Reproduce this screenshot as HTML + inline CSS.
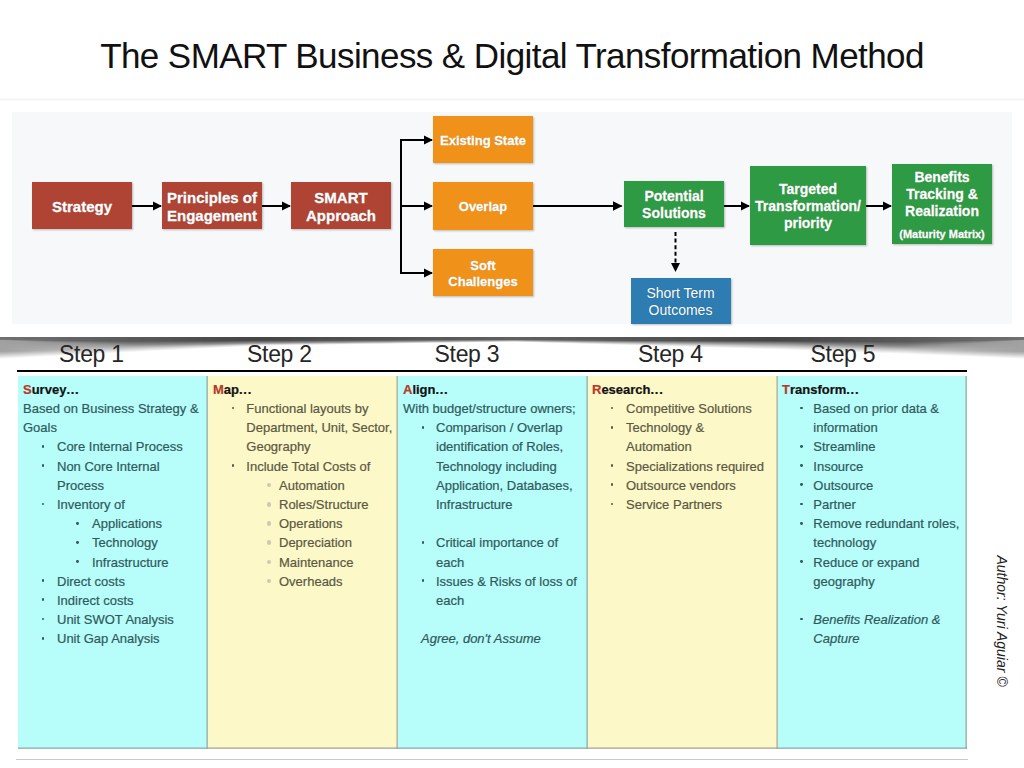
<!DOCTYPE html>
<html><head><meta charset="utf-8">
<style>
*{margin:0;padding:0;box-sizing:border-box}
html,body{width:1024px;height:768px;overflow:hidden;background:#fff;font-family:"Liberation Sans",sans-serif;position:relative}
.abs{position:absolute}
#title{left:0;top:35.5px;width:1024px;text-align:center;font-size:35px;line-height:40px;color:#111;letter-spacing:-0.58px;padding-left:0px}
#sep{left:0;top:98px;width:1024px;height:3px;background:linear-gradient(#fff,#f3f3f3,#fff)}
#panel{left:12px;top:111.5px;width:1000px;height:212px;background:#f7f8fa}
.bx{position:absolute;color:#fff;font-weight:bold;font-size:15px;line-height:18px;text-align:center;display:flex;align-items:center;justify-content:center;box-shadow:1px 1px 2px rgba(0,0,0,.25);text-shadow:0 0 1px rgba(0,0,0,.35);padding-top:2px;-webkit-text-stroke:0.3px #fff}
.red{background:#b04434}
.org{background:#f0921a}
.grn{background:#2e9a44}
.blu{background:#2d7db3;font-weight:normal;-webkit-text-stroke:0 !important}
.step{position:absolute;top:340px;font-size:23px;line-height:28px;color:#262626;letter-spacing:-0.3px}
#bline{left:17px;top:370px;width:950px;height:2px;background:#000}
.col{position:absolute;top:376px;width:190px;height:373px;font-size:13px;line-height:19.2px;color:#2f5a5c;padding-top:3.9px;-webkit-text-stroke:0.2px currentColor}
.ye{color:#5a5843}
.cy{background:#b7fdfa}
.col:after{content:"";position:absolute;right:0;top:0;bottom:0;width:2px;background:linear-gradient(90deg,rgba(150,160,155,.35),rgba(150,160,155,.8))}
.col>i.bt{position:absolute;left:0;right:0;bottom:0;height:2px;background:linear-gradient(rgba(150,160,155,.35),rgba(150,160,155,.8))}
.ye{background:#fdf8c8}
.col div{white-space:nowrap}
.h{font-weight:bold;color:#111}
.dd{font-style:normal;letter-spacing:0.7px}
.h b{color:#b43a2a}
.b1{position:relative}
.b1:before{content:"\00b7";position:absolute}

.col .l{position:relative;height:19.2px}
.l0{padding-left:5px}
.l1{padding-left:39px}
.l2{padding-left:74px}
.dot:before{content:"";position:absolute;width:2.8px;height:2.8px;border-radius:50%;background:currentColor;top:7.5px}
.l1.dot:before{left:23.7px}
.l2.dot:before{left:58.4px}
.circ{padding-left:71px}
.circ:before{content:"";position:absolute;width:4.6px;height:4.6px;border-radius:50%;background:#cdcab0;left:58.7px;top:7px}
.it{font-style:italic}
#c2 .l1{padding-left:38.3px}
#c3 .l1{padding-left:38px}
#c4 .l{left:-1px}
#c5 .l0{padding-left:4px}
#c5 .l1{padding-left:35.3px}
#c5 .l1.dot:before{left:22.3px}
#bot{left:16px;top:759px;width:952px;height:1px;background:#c9c9c9}
#author{left:1002px;top:621px;transform:translate(-50%,-50%) rotate(90deg);font-size:14px;font-style:italic;color:#222;white-space:nowrap}
</style></head><body>
<div id="title" class="abs">The SMART Business &amp; Digital Transformation Method</div>
<div id="sep" class="abs"></div>
<div id="panel" class="abs"></div>

<div class="bx red" style="left:32px;top:182px;width:100px;height:47px">Strategy</div>
<div class="bx red" style="left:162px;top:182px;width:100px;height:47px">Principles of<br>Engagement</div>
<div class="bx red" style="left:291px;top:182px;width:100px;height:47px">SMART<br>Approach</div>
<div class="bx org" style="left:433px;top:116px;width:100px;height:47px;font-size:13px">Existing State</div>
<div class="bx org" style="left:433px;top:182px;width:100px;height:48px;font-size:13px">Overlap</div>
<div class="bx org" style="left:433px;top:249px;width:100px;height:47px;font-size:13px;line-height:16px">Soft<br>Challenges</div>
<div class="bx grn" style="left:624px;top:181px;width:100px;height:46px;font-size:14px;line-height:17px">Potential<br>Solutions</div>
<div class="bx grn" style="left:750px;top:166px;width:116px;height:79px;font-size:14px;line-height:17px">Targeted<br>Transformation/<br>priority</div>
<div class="bx grn" style="left:892px;top:164px;width:100px;height:80px;font-size:14px;line-height:17px"><div>Benefits<br>Tracking &amp;<br>Realization<div style="font-size:11px;line-height:14px;margin-top:7px">(Maturity Matrix)</div></div></div>
<div class="bx blu" style="left:630.5px;top:277.5px;width:100px;height:46px;font-size:14px;line-height:17px">Short Term<br>Outcomes</div>

<svg class="abs" style="left:0;top:0" width="1024" height="768">
<defs><marker id="ah" markerWidth="10" markerHeight="10" refX="8.5" refY="4.75" orient="auto" markerUnits="userSpaceOnUse"><path d="M0,0 L9.5,4.75 L0,9.5 z" fill="#000"/></marker></defs>
<g stroke="#000" stroke-width="2" fill="none">
<line x1="132" y1="206" x2="161" y2="206" marker-end="url(#ah)"/>
<line x1="262" y1="206" x2="290" y2="206" marker-end="url(#ah)"/>
<line x1="401" y1="140" x2="401" y2="273"/>
<line x1="400" y1="140" x2="432" y2="140" marker-end="url(#ah)"/>
<line x1="400" y1="206" x2="432" y2="206" marker-end="url(#ah)"/>
<line x1="400" y1="273" x2="432" y2="273" marker-end="url(#ah)"/>
<line x1="533" y1="206" x2="621.5" y2="206" marker-end="url(#ah)"/>
<line x1="724" y1="206" x2="749" y2="206" marker-end="url(#ah)"/>
<line x1="866" y1="206" x2="891" y2="206" marker-end="url(#ah)"/>
<line x1="675.5" y1="232" x2="675.5" y2="271" stroke-dasharray="4,2.6" marker-end="url(#ah)"/>
</g>
</svg>

<svg id="shadow" class="abs" style="left:0;top:0" width="1024" height="768"><defs><filter id="sb" x="-2%" y="-50%" width="104%" height="200%"><feGaussianBlur stdDeviation="5 0.5"/></filter><linearGradient id="g0" x1="0" y1="0" x2="0" y2="1"><stop offset="0" stop-opacity="0.56"/><stop offset="0.11" stop-opacity="0.56"/><stop offset="0.14" stop-opacity="0.37"/><stop offset="0.66" stop-opacity="0.37"/><stop offset="1" stop-opacity="0"/></linearGradient><linearGradient id="g1" x1="0" y1="0" x2="0" y2="1"><stop offset="0" stop-opacity="0.56"/><stop offset="0.11" stop-opacity="0.56"/><stop offset="0.14" stop-opacity="0.37"/><stop offset="0.66" stop-opacity="0.37"/><stop offset="1" stop-opacity="0"/></linearGradient><linearGradient id="g2" x1="0" y1="0" x2="0" y2="1"><stop offset="0" stop-opacity="0.56"/><stop offset="0.11" stop-opacity="0.56"/><stop offset="0.15" stop-opacity="0.37"/><stop offset="0.66" stop-opacity="0.36"/><stop offset="1" stop-opacity="0"/></linearGradient><linearGradient id="g3" x1="0" y1="0" x2="0" y2="1"><stop offset="0" stop-opacity="0.57"/><stop offset="0.12" stop-opacity="0.57"/><stop offset="0.17" stop-opacity="0.38"/><stop offset="0.67" stop-opacity="0.35"/><stop offset="1" stop-opacity="0"/></linearGradient><linearGradient id="g4" x1="0" y1="0" x2="0" y2="1"><stop offset="0" stop-opacity="0.57"/><stop offset="0.13" stop-opacity="0.57"/><stop offset="0.19" stop-opacity="0.38"/><stop offset="0.67" stop-opacity="0.34"/><stop offset="1" stop-opacity="0"/></linearGradient><linearGradient id="g5" x1="0" y1="0" x2="0" y2="1"><stop offset="0" stop-opacity="0.58"/><stop offset="0.14" stop-opacity="0.58"/><stop offset="0.21" stop-opacity="0.39"/><stop offset="0.68" stop-opacity="0.33"/><stop offset="1" stop-opacity="0"/></linearGradient><linearGradient id="g6" x1="0" y1="0" x2="0" y2="1"><stop offset="0" stop-opacity="0.58"/><stop offset="0.15" stop-opacity="0.58"/><stop offset="0.24" stop-opacity="0.40"/><stop offset="0.68" stop-opacity="0.32"/><stop offset="1" stop-opacity="0"/></linearGradient><linearGradient id="g7" x1="0" y1="0" x2="0" y2="1"><stop offset="0" stop-opacity="0.59"/><stop offset="0.16" stop-opacity="0.59"/><stop offset="0.26" stop-opacity="0.40"/><stop offset="0.69" stop-opacity="0.31"/><stop offset="1" stop-opacity="0"/></linearGradient><linearGradient id="g8" x1="0" y1="0" x2="0" y2="1"><stop offset="0" stop-opacity="0.59"/><stop offset="0.17" stop-opacity="0.59"/><stop offset="0.28" stop-opacity="0.41"/><stop offset="0.69" stop-opacity="0.30"/><stop offset="1" stop-opacity="0"/></linearGradient><linearGradient id="g9" x1="0" y1="0" x2="0" y2="1"><stop offset="0" stop-opacity="0.60"/><stop offset="0.18" stop-opacity="0.60"/><stop offset="0.30" stop-opacity="0.41"/><stop offset="0.70" stop-opacity="0.29"/><stop offset="1" stop-opacity="0"/></linearGradient><linearGradient id="g10" x1="0" y1="0" x2="0" y2="1"><stop offset="0" stop-opacity="0.61"/><stop offset="0.19" stop-opacity="0.61"/><stop offset="0.32" stop-opacity="0.42"/><stop offset="0.71" stop-opacity="0.28"/><stop offset="1" stop-opacity="0"/></linearGradient><linearGradient id="g11" x1="0" y1="0" x2="0" y2="1"><stop offset="0" stop-opacity="0.61"/><stop offset="0.20" stop-opacity="0.61"/><stop offset="0.34" stop-opacity="0.43"/><stop offset="0.71" stop-opacity="0.27"/><stop offset="1" stop-opacity="0"/></linearGradient><linearGradient id="g12" x1="0" y1="0" x2="0" y2="1"><stop offset="0" stop-opacity="0.62"/><stop offset="0.21" stop-opacity="0.62"/><stop offset="0.36" stop-opacity="0.43"/><stop offset="0.72" stop-opacity="0.26"/><stop offset="1" stop-opacity="0"/></linearGradient><linearGradient id="g13" x1="0" y1="0" x2="0" y2="1"><stop offset="0" stop-opacity="0.62"/><stop offset="0.22" stop-opacity="0.62"/><stop offset="0.39" stop-opacity="0.44"/><stop offset="0.72" stop-opacity="0.25"/><stop offset="1" stop-opacity="0"/></linearGradient><linearGradient id="g14" x1="0" y1="0" x2="0" y2="1"><stop offset="0" stop-opacity="0.63"/><stop offset="0.23" stop-opacity="0.63"/><stop offset="0.41" stop-opacity="0.44"/><stop offset="0.73" stop-opacity="0.24"/><stop offset="1" stop-opacity="0"/></linearGradient><linearGradient id="g15" x1="0" y1="0" x2="0" y2="1"><stop offset="0" stop-opacity="0.63"/><stop offset="0.24" stop-opacity="0.63"/><stop offset="0.43" stop-opacity="0.45"/><stop offset="0.73" stop-opacity="0.23"/><stop offset="1" stop-opacity="0"/></linearGradient><linearGradient id="g16" x1="0" y1="0" x2="0" y2="1"><stop offset="0" stop-opacity="0.64"/><stop offset="0.25" stop-opacity="0.64"/><stop offset="0.45" stop-opacity="0.46"/><stop offset="0.74" stop-opacity="0.22"/><stop offset="1" stop-opacity="0"/></linearGradient><linearGradient id="g17" x1="0" y1="0" x2="0" y2="1"><stop offset="0" stop-opacity="0.64"/><stop offset="0.26" stop-opacity="0.64"/><stop offset="0.47" stop-opacity="0.46"/><stop offset="0.74" stop-opacity="0.21"/><stop offset="1" stop-opacity="0"/></linearGradient><linearGradient id="g18" x1="0" y1="0" x2="0" y2="1"><stop offset="0" stop-opacity="0.65"/><stop offset="0.27" stop-opacity="0.65"/><stop offset="0.49" stop-opacity="0.47"/><stop offset="0.75" stop-opacity="0.20"/><stop offset="1" stop-opacity="0"/></linearGradient><linearGradient id="g19" x1="0" y1="0" x2="0" y2="1"><stop offset="0" stop-opacity="0.65"/><stop offset="0.27" stop-opacity="0.65"/><stop offset="0.51" stop-opacity="0.47"/><stop offset="0.75" stop-opacity="0.20"/><stop offset="1" stop-opacity="0"/></linearGradient><linearGradient id="g20" x1="0" y1="0" x2="0" y2="1"><stop offset="0" stop-opacity="0.66"/><stop offset="0.28" stop-opacity="0.66"/><stop offset="0.52" stop-opacity="0.46"/><stop offset="0.76" stop-opacity="0.19"/><stop offset="1" stop-opacity="0"/></linearGradient><linearGradient id="g21" x1="0" y1="0" x2="0" y2="1"><stop offset="0" stop-opacity="0.66"/><stop offset="0.29" stop-opacity="0.66"/><stop offset="0.54" stop-opacity="0.46"/><stop offset="0.77" stop-opacity="0.19"/><stop offset="1" stop-opacity="0"/></linearGradient><linearGradient id="g22" x1="0" y1="0" x2="0" y2="1"><stop offset="0" stop-opacity="0.67"/><stop offset="0.29" stop-opacity="0.67"/><stop offset="0.55" stop-opacity="0.45"/><stop offset="0.77" stop-opacity="0.19"/><stop offset="1" stop-opacity="0"/></linearGradient><linearGradient id="g23" x1="0" y1="0" x2="0" y2="1"><stop offset="0" stop-opacity="0.67"/><stop offset="0.30" stop-opacity="0.67"/><stop offset="0.56" stop-opacity="0.45"/><stop offset="0.78" stop-opacity="0.18"/><stop offset="1" stop-opacity="0"/></linearGradient><linearGradient id="g24" x1="0" y1="0" x2="0" y2="1"><stop offset="0" stop-opacity="0.68"/><stop offset="0.31" stop-opacity="0.68"/><stop offset="0.57" stop-opacity="0.44"/><stop offset="0.79" stop-opacity="0.18"/><stop offset="1" stop-opacity="0"/></linearGradient><linearGradient id="g25" x1="0" y1="0" x2="0" y2="1"><stop offset="0" stop-opacity="0.69"/><stop offset="0.31" stop-opacity="0.69"/><stop offset="0.59" stop-opacity="0.44"/><stop offset="0.79" stop-opacity="0.18"/><stop offset="1" stop-opacity="0"/></linearGradient><linearGradient id="g26" x1="0" y1="0" x2="0" y2="1"><stop offset="0" stop-opacity="0.69"/><stop offset="0.32" stop-opacity="0.69"/><stop offset="0.60" stop-opacity="0.43"/><stop offset="0.80" stop-opacity="0.17"/><stop offset="1" stop-opacity="0"/></linearGradient><linearGradient id="g27" x1="0" y1="0" x2="0" y2="1"><stop offset="0" stop-opacity="0.70"/><stop offset="0.33" stop-opacity="0.70"/><stop offset="0.61" stop-opacity="0.43"/><stop offset="0.81" stop-opacity="0.17"/><stop offset="1" stop-opacity="0"/></linearGradient><linearGradient id="g28" x1="0" y1="0" x2="0" y2="1"><stop offset="0" stop-opacity="0.70"/><stop offset="0.33" stop-opacity="0.70"/><stop offset="0.63" stop-opacity="0.43"/><stop offset="0.81" stop-opacity="0.17"/><stop offset="1" stop-opacity="0"/></linearGradient><linearGradient id="g29" x1="0" y1="0" x2="0" y2="1"><stop offset="0" stop-opacity="0.71"/><stop offset="0.34" stop-opacity="0.71"/><stop offset="0.64" stop-opacity="0.42"/><stop offset="0.82" stop-opacity="0.16"/><stop offset="1" stop-opacity="0"/></linearGradient><linearGradient id="g30" x1="0" y1="0" x2="0" y2="1"><stop offset="0" stop-opacity="0.71"/><stop offset="0.35" stop-opacity="0.71"/><stop offset="0.66" stop-opacity="0.42"/><stop offset="0.83" stop-opacity="0.16"/><stop offset="1" stop-opacity="0"/></linearGradient><linearGradient id="g31" x1="0" y1="0" x2="0" y2="1"><stop offset="0" stop-opacity="0.72"/><stop offset="0.35" stop-opacity="0.72"/><stop offset="0.67" stop-opacity="0.41"/><stop offset="0.83" stop-opacity="0.16"/><stop offset="1" stop-opacity="0"/></linearGradient><linearGradient id="g32" x1="0" y1="0" x2="0" y2="1"><stop offset="0" stop-opacity="0.72"/><stop offset="0.36" stop-opacity="0.72"/><stop offset="0.68" stop-opacity="0.41"/><stop offset="0.84" stop-opacity="0.15"/><stop offset="1" stop-opacity="0"/></linearGradient><linearGradient id="g33" x1="0" y1="0" x2="0" y2="1"><stop offset="0" stop-opacity="0.73"/><stop offset="0.37" stop-opacity="0.73"/><stop offset="0.69" stop-opacity="0.40"/><stop offset="0.85" stop-opacity="0.15"/><stop offset="1" stop-opacity="0"/></linearGradient><linearGradient id="g34" x1="0" y1="0" x2="0" y2="1"><stop offset="0" stop-opacity="0.73"/><stop offset="0.37" stop-opacity="0.73"/><stop offset="0.70" stop-opacity="0.40"/><stop offset="0.85" stop-opacity="0.15"/><stop offset="1" stop-opacity="0"/></linearGradient><linearGradient id="g35" x1="0" y1="0" x2="0" y2="1"><stop offset="0" stop-opacity="0.72"/><stop offset="0.38" stop-opacity="0.72"/><stop offset="0.70" stop-opacity="0.40"/><stop offset="0.85" stop-opacity="0.15"/><stop offset="1" stop-opacity="0"/></linearGradient><linearGradient id="g36" x1="0" y1="0" x2="0" y2="1"><stop offset="0" stop-opacity="0.72"/><stop offset="0.38" stop-opacity="0.72"/><stop offset="0.70" stop-opacity="0.39"/><stop offset="0.85" stop-opacity="0.15"/><stop offset="1" stop-opacity="0"/></linearGradient><linearGradient id="g37" x1="0" y1="0" x2="0" y2="1"><stop offset="0" stop-opacity="0.72"/><stop offset="0.38" stop-opacity="0.72"/><stop offset="0.71" stop-opacity="0.39"/><stop offset="0.86" stop-opacity="0.14"/><stop offset="1" stop-opacity="0"/></linearGradient><linearGradient id="g38" x1="0" y1="0" x2="0" y2="1"><stop offset="0" stop-opacity="0.71"/><stop offset="0.39" stop-opacity="0.71"/><stop offset="0.71" stop-opacity="0.39"/><stop offset="0.86" stop-opacity="0.14"/><stop offset="1" stop-opacity="0"/></linearGradient><linearGradient id="g39" x1="0" y1="0" x2="0" y2="1"><stop offset="0" stop-opacity="0.71"/><stop offset="0.39" stop-opacity="0.71"/><stop offset="0.71" stop-opacity="0.38"/><stop offset="0.86" stop-opacity="0.14"/><stop offset="1" stop-opacity="0"/></linearGradient><linearGradient id="g40" x1="0" y1="0" x2="0" y2="1"><stop offset="0" stop-opacity="0.71"/><stop offset="0.40" stop-opacity="0.71"/><stop offset="0.71" stop-opacity="0.38"/><stop offset="0.86" stop-opacity="0.14"/><stop offset="1" stop-opacity="0"/></linearGradient><linearGradient id="g41" x1="0" y1="0" x2="0" y2="1"><stop offset="0" stop-opacity="0.70"/><stop offset="0.40" stop-opacity="0.70"/><stop offset="0.71" stop-opacity="0.38"/><stop offset="0.86" stop-opacity="0.14"/><stop offset="1" stop-opacity="0"/></linearGradient><linearGradient id="g42" x1="0" y1="0" x2="0" y2="1"><stop offset="0" stop-opacity="0.70"/><stop offset="0.40" stop-opacity="0.70"/><stop offset="0.71" stop-opacity="0.37"/><stop offset="0.86" stop-opacity="0.14"/><stop offset="1" stop-opacity="0"/></linearGradient><linearGradient id="g43" x1="0" y1="0" x2="0" y2="1"><stop offset="0" stop-opacity="0.70"/><stop offset="0.41" stop-opacity="0.70"/><stop offset="0.71" stop-opacity="0.37"/><stop offset="0.86" stop-opacity="0.14"/><stop offset="1" stop-opacity="0"/></linearGradient><linearGradient id="g44" x1="0" y1="0" x2="0" y2="1"><stop offset="0" stop-opacity="0.69"/><stop offset="0.41" stop-opacity="0.69"/><stop offset="0.72" stop-opacity="0.37"/><stop offset="0.87" stop-opacity="0.13"/><stop offset="1" stop-opacity="0"/></linearGradient><linearGradient id="g45" x1="0" y1="0" x2="0" y2="1"><stop offset="0" stop-opacity="0.69"/><stop offset="0.42" stop-opacity="0.69"/><stop offset="0.72" stop-opacity="0.36"/><stop offset="0.87" stop-opacity="0.13"/><stop offset="1" stop-opacity="0"/></linearGradient><linearGradient id="g46" x1="0" y1="0" x2="0" y2="1"><stop offset="0" stop-opacity="0.69"/><stop offset="0.42" stop-opacity="0.69"/><stop offset="0.72" stop-opacity="0.36"/><stop offset="0.87" stop-opacity="0.13"/><stop offset="1" stop-opacity="0"/></linearGradient><linearGradient id="g47" x1="0" y1="0" x2="0" y2="1"><stop offset="0" stop-opacity="0.68"/><stop offset="0.42" stop-opacity="0.68"/><stop offset="0.72" stop-opacity="0.36"/><stop offset="0.87" stop-opacity="0.13"/><stop offset="1" stop-opacity="0"/></linearGradient><linearGradient id="g48" x1="0" y1="0" x2="0" y2="1"><stop offset="0" stop-opacity="0.68"/><stop offset="0.43" stop-opacity="0.68"/><stop offset="0.72" stop-opacity="0.35"/><stop offset="0.87" stop-opacity="0.13"/><stop offset="1" stop-opacity="0"/></linearGradient><linearGradient id="g49" x1="0" y1="0" x2="0" y2="1"><stop offset="0" stop-opacity="0.68"/><stop offset="0.43" stop-opacity="0.68"/><stop offset="0.72" stop-opacity="0.35"/><stop offset="0.87" stop-opacity="0.13"/><stop offset="1" stop-opacity="0"/></linearGradient><linearGradient id="g50" x1="0" y1="0" x2="0" y2="1"><stop offset="0" stop-opacity="0.67"/><stop offset="0.44" stop-opacity="0.67"/><stop offset="0.73" stop-opacity="0.35"/><stop offset="0.88" stop-opacity="0.12"/><stop offset="1" stop-opacity="0"/></linearGradient><linearGradient id="g51" x1="0" y1="0" x2="0" y2="1"><stop offset="0" stop-opacity="0.67"/><stop offset="0.44" stop-opacity="0.67"/><stop offset="0.73" stop-opacity="0.35"/><stop offset="0.88" stop-opacity="0.12"/><stop offset="1" stop-opacity="0"/></linearGradient><linearGradient id="g52" x1="0" y1="0" x2="0" y2="1"><stop offset="0" stop-opacity="0.67"/><stop offset="0.44" stop-opacity="0.67"/><stop offset="0.73" stop-opacity="0.34"/><stop offset="0.88" stop-opacity="0.12"/><stop offset="1" stop-opacity="0"/></linearGradient><linearGradient id="g53" x1="0" y1="0" x2="0" y2="1"><stop offset="0" stop-opacity="0.66"/><stop offset="0.45" stop-opacity="0.66"/><stop offset="0.73" stop-opacity="0.34"/><stop offset="0.88" stop-opacity="0.12"/><stop offset="1" stop-opacity="0"/></linearGradient><linearGradient id="g54" x1="0" y1="0" x2="0" y2="1"><stop offset="0" stop-opacity="0.66"/><stop offset="0.45" stop-opacity="0.66"/><stop offset="0.73" stop-opacity="0.34"/><stop offset="0.88" stop-opacity="0.12"/><stop offset="1" stop-opacity="0"/></linearGradient><linearGradient id="g55" x1="0" y1="0" x2="0" y2="1"><stop offset="0" stop-opacity="0.66"/><stop offset="0.46" stop-opacity="0.66"/><stop offset="0.73" stop-opacity="0.33"/><stop offset="0.88" stop-opacity="0.12"/><stop offset="1" stop-opacity="0"/></linearGradient><linearGradient id="g56" x1="0" y1="0" x2="0" y2="1"><stop offset="0" stop-opacity="0.65"/><stop offset="0.46" stop-opacity="0.65"/><stop offset="0.73" stop-opacity="0.33"/><stop offset="0.88" stop-opacity="0.12"/><stop offset="1" stop-opacity="0"/></linearGradient><linearGradient id="g57" x1="0" y1="0" x2="0" y2="1"><stop offset="0" stop-opacity="0.65"/><stop offset="0.46" stop-opacity="0.65"/><stop offset="0.74" stop-opacity="0.33"/><stop offset="0.89" stop-opacity="0.11"/><stop offset="1" stop-opacity="0"/></linearGradient><linearGradient id="g58" x1="0" y1="0" x2="0" y2="1"><stop offset="0" stop-opacity="0.65"/><stop offset="0.47" stop-opacity="0.65"/><stop offset="0.74" stop-opacity="0.32"/><stop offset="0.89" stop-opacity="0.11"/><stop offset="1" stop-opacity="0"/></linearGradient><linearGradient id="g59" x1="0" y1="0" x2="0" y2="1"><stop offset="0" stop-opacity="0.64"/><stop offset="0.47" stop-opacity="0.64"/><stop offset="0.74" stop-opacity="0.32"/><stop offset="0.89" stop-opacity="0.11"/><stop offset="1" stop-opacity="0"/></linearGradient><linearGradient id="g60" x1="0" y1="0" x2="0" y2="1"><stop offset="0" stop-opacity="0.64"/><stop offset="0.48" stop-opacity="0.64"/><stop offset="0.74" stop-opacity="0.32"/><stop offset="0.89" stop-opacity="0.11"/><stop offset="1" stop-opacity="0"/></linearGradient><linearGradient id="g61" x1="0" y1="0" x2="0" y2="1"><stop offset="0" stop-opacity="0.64"/><stop offset="0.48" stop-opacity="0.64"/><stop offset="0.74" stop-opacity="0.32"/><stop offset="0.89" stop-opacity="0.11"/><stop offset="1" stop-opacity="0"/></linearGradient><linearGradient id="g62" x1="0" y1="0" x2="0" y2="1"><stop offset="0" stop-opacity="0.63"/><stop offset="0.48" stop-opacity="0.63"/><stop offset="0.74" stop-opacity="0.31"/><stop offset="0.89" stop-opacity="0.11"/><stop offset="1" stop-opacity="0"/></linearGradient><linearGradient id="g63" x1="0" y1="0" x2="0" y2="1"><stop offset="0" stop-opacity="0.63"/><stop offset="0.49" stop-opacity="0.63"/><stop offset="0.75" stop-opacity="0.31"/><stop offset="0.90" stop-opacity="0.10"/><stop offset="1" stop-opacity="0"/></linearGradient><linearGradient id="g64" x1="0" y1="0" x2="0" y2="1"><stop offset="0" stop-opacity="0.63"/><stop offset="0.49" stop-opacity="0.63"/><stop offset="0.75" stop-opacity="0.31"/><stop offset="0.90" stop-opacity="0.10"/><stop offset="1" stop-opacity="0"/></linearGradient><linearGradient id="g65" x1="0" y1="0" x2="0" y2="1"><stop offset="0" stop-opacity="0.62"/><stop offset="0.50" stop-opacity="0.62"/><stop offset="0.75" stop-opacity="0.30"/><stop offset="0.90" stop-opacity="0.10"/><stop offset="1" stop-opacity="0"/></linearGradient><linearGradient id="g66" x1="0" y1="0" x2="0" y2="1"><stop offset="0" stop-opacity="0.62"/><stop offset="0.50" stop-opacity="0.62"/><stop offset="0.75" stop-opacity="0.30"/><stop offset="0.90" stop-opacity="0.10"/><stop offset="1" stop-opacity="0"/></linearGradient><linearGradient id="g67" x1="0" y1="0" x2="0" y2="1"><stop offset="0" stop-opacity="0.62"/><stop offset="0.49" stop-opacity="0.62"/><stop offset="0.74" stop-opacity="0.31"/><stop offset="0.89" stop-opacity="0.10"/><stop offset="1" stop-opacity="0"/></linearGradient><linearGradient id="g68" x1="0" y1="0" x2="0" y2="1"><stop offset="0" stop-opacity="0.63"/><stop offset="0.49" stop-opacity="0.63"/><stop offset="0.73" stop-opacity="0.31"/><stop offset="0.89" stop-opacity="0.11"/><stop offset="1" stop-opacity="0"/></linearGradient><linearGradient id="g69" x1="0" y1="0" x2="0" y2="1"><stop offset="0" stop-opacity="0.63"/><stop offset="0.48" stop-opacity="0.63"/><stop offset="0.73" stop-opacity="0.32"/><stop offset="0.89" stop-opacity="0.11"/><stop offset="1" stop-opacity="0"/></linearGradient><linearGradient id="g70" x1="0" y1="0" x2="0" y2="1"><stop offset="0" stop-opacity="0.63"/><stop offset="0.47" stop-opacity="0.63"/><stop offset="0.72" stop-opacity="0.32"/><stop offset="0.88" stop-opacity="0.11"/><stop offset="1" stop-opacity="0"/></linearGradient><linearGradient id="g71" x1="0" y1="0" x2="0" y2="1"><stop offset="0" stop-opacity="0.64"/><stop offset="0.47" stop-opacity="0.64"/><stop offset="0.71" stop-opacity="0.33"/><stop offset="0.88" stop-opacity="0.12"/><stop offset="1" stop-opacity="0"/></linearGradient><linearGradient id="g72" x1="0" y1="0" x2="0" y2="1"><stop offset="0" stop-opacity="0.64"/><stop offset="0.46" stop-opacity="0.64"/><stop offset="0.70" stop-opacity="0.33"/><stop offset="0.87" stop-opacity="0.12"/><stop offset="1" stop-opacity="0"/></linearGradient><linearGradient id="g73" x1="0" y1="0" x2="0" y2="1"><stop offset="0" stop-opacity="0.64"/><stop offset="0.46" stop-opacity="0.64"/><stop offset="0.70" stop-opacity="0.34"/><stop offset="0.87" stop-opacity="0.12"/><stop offset="1" stop-opacity="0"/></linearGradient><linearGradient id="g74" x1="0" y1="0" x2="0" y2="1"><stop offset="0" stop-opacity="0.65"/><stop offset="0.45" stop-opacity="0.65"/><stop offset="0.69" stop-opacity="0.34"/><stop offset="0.86" stop-opacity="0.12"/><stop offset="1" stop-opacity="0"/></linearGradient><linearGradient id="g75" x1="0" y1="0" x2="0" y2="1"><stop offset="0" stop-opacity="0.65"/><stop offset="0.44" stop-opacity="0.65"/><stop offset="0.68" stop-opacity="0.35"/><stop offset="0.86" stop-opacity="0.13"/><stop offset="1" stop-opacity="0"/></linearGradient><linearGradient id="g76" x1="0" y1="0" x2="0" y2="1"><stop offset="0" stop-opacity="0.65"/><stop offset="0.44" stop-opacity="0.65"/><stop offset="0.67" stop-opacity="0.35"/><stop offset="0.85" stop-opacity="0.13"/><stop offset="1" stop-opacity="0"/></linearGradient><linearGradient id="g77" x1="0" y1="0" x2="0" y2="1"><stop offset="0" stop-opacity="0.66"/><stop offset="0.43" stop-opacity="0.66"/><stop offset="0.66" stop-opacity="0.36"/><stop offset="0.85" stop-opacity="0.13"/><stop offset="1" stop-opacity="0"/></linearGradient><linearGradient id="g78" x1="0" y1="0" x2="0" y2="1"><stop offset="0" stop-opacity="0.66"/><stop offset="0.43" stop-opacity="0.66"/><stop offset="0.66" stop-opacity="0.36"/><stop offset="0.84" stop-opacity="0.14"/><stop offset="1" stop-opacity="0"/></linearGradient><linearGradient id="g79" x1="0" y1="0" x2="0" y2="1"><stop offset="0" stop-opacity="0.66"/><stop offset="0.42" stop-opacity="0.66"/><stop offset="0.65" stop-opacity="0.37"/><stop offset="0.84" stop-opacity="0.14"/><stop offset="1" stop-opacity="0"/></linearGradient><linearGradient id="g80" x1="0" y1="0" x2="0" y2="1"><stop offset="0" stop-opacity="0.67"/><stop offset="0.41" stop-opacity="0.67"/><stop offset="0.64" stop-opacity="0.37"/><stop offset="0.83" stop-opacity="0.14"/><stop offset="1" stop-opacity="0"/></linearGradient><linearGradient id="g81" x1="0" y1="0" x2="0" y2="1"><stop offset="0" stop-opacity="0.67"/><stop offset="0.41" stop-opacity="0.67"/><stop offset="0.63" stop-opacity="0.38"/><stop offset="0.83" stop-opacity="0.15"/><stop offset="1" stop-opacity="0"/></linearGradient><linearGradient id="g82" x1="0" y1="0" x2="0" y2="1"><stop offset="0" stop-opacity="0.67"/><stop offset="0.40" stop-opacity="0.67"/><stop offset="0.63" stop-opacity="0.38"/><stop offset="0.83" stop-opacity="0.15"/><stop offset="1" stop-opacity="0"/></linearGradient><linearGradient id="g83" x1="0" y1="0" x2="0" y2="1"><stop offset="0" stop-opacity="0.68"/><stop offset="0.39" stop-opacity="0.68"/><stop offset="0.62" stop-opacity="0.39"/><stop offset="0.82" stop-opacity="0.15"/><stop offset="1" stop-opacity="0"/></linearGradient><linearGradient id="g84" x1="0" y1="0" x2="0" y2="1"><stop offset="0" stop-opacity="0.68"/><stop offset="0.39" stop-opacity="0.68"/><stop offset="0.61" stop-opacity="0.39"/><stop offset="0.82" stop-opacity="0.16"/><stop offset="1" stop-opacity="0"/></linearGradient><linearGradient id="g85" x1="0" y1="0" x2="0" y2="1"><stop offset="0" stop-opacity="0.68"/><stop offset="0.38" stop-opacity="0.68"/><stop offset="0.60" stop-opacity="0.40"/><stop offset="0.81" stop-opacity="0.16"/><stop offset="1" stop-opacity="0"/></linearGradient><linearGradient id="g86" x1="0" y1="0" x2="0" y2="1"><stop offset="0" stop-opacity="0.69"/><stop offset="0.38" stop-opacity="0.69"/><stop offset="0.60" stop-opacity="0.41"/><stop offset="0.81" stop-opacity="0.16"/><stop offset="1" stop-opacity="0"/></linearGradient><linearGradient id="g87" x1="0" y1="0" x2="0" y2="1"><stop offset="0" stop-opacity="0.69"/><stop offset="0.37" stop-opacity="0.69"/><stop offset="0.59" stop-opacity="0.41"/><stop offset="0.80" stop-opacity="0.17"/><stop offset="1" stop-opacity="0"/></linearGradient><linearGradient id="g88" x1="0" y1="0" x2="0" y2="1"><stop offset="0" stop-opacity="0.69"/><stop offset="0.36" stop-opacity="0.69"/><stop offset="0.58" stop-opacity="0.42"/><stop offset="0.80" stop-opacity="0.17"/><stop offset="1" stop-opacity="0"/></linearGradient><linearGradient id="g89" x1="0" y1="0" x2="0" y2="1"><stop offset="0" stop-opacity="0.70"/><stop offset="0.36" stop-opacity="0.70"/><stop offset="0.57" stop-opacity="0.42"/><stop offset="0.79" stop-opacity="0.17"/><stop offset="1" stop-opacity="0"/></linearGradient><linearGradient id="g90" x1="0" y1="0" x2="0" y2="1"><stop offset="0" stop-opacity="0.70"/><stop offset="0.35" stop-opacity="0.70"/><stop offset="0.56" stop-opacity="0.43"/><stop offset="0.79" stop-opacity="0.17"/><stop offset="1" stop-opacity="0"/></linearGradient><linearGradient id="g91" x1="0" y1="0" x2="0" y2="1"><stop offset="0" stop-opacity="0.71"/><stop offset="0.35" stop-opacity="0.71"/><stop offset="0.56" stop-opacity="0.43"/><stop offset="0.78" stop-opacity="0.18"/><stop offset="1" stop-opacity="0"/></linearGradient><linearGradient id="g92" x1="0" y1="0" x2="0" y2="1"><stop offset="0" stop-opacity="0.71"/><stop offset="0.34" stop-opacity="0.71"/><stop offset="0.55" stop-opacity="0.44"/><stop offset="0.78" stop-opacity="0.18"/><stop offset="1" stop-opacity="0"/></linearGradient><linearGradient id="g93" x1="0" y1="0" x2="0" y2="1"><stop offset="0" stop-opacity="0.71"/><stop offset="0.33" stop-opacity="0.71"/><stop offset="0.54" stop-opacity="0.44"/><stop offset="0.77" stop-opacity="0.18"/><stop offset="1" stop-opacity="0"/></linearGradient><linearGradient id="g94" x1="0" y1="0" x2="0" y2="1"><stop offset="0" stop-opacity="0.72"/><stop offset="0.33" stop-opacity="0.72"/><stop offset="0.53" stop-opacity="0.45"/><stop offset="0.77" stop-opacity="0.19"/><stop offset="1" stop-opacity="0"/></linearGradient><linearGradient id="g95" x1="0" y1="0" x2="0" y2="1"><stop offset="0" stop-opacity="0.72"/><stop offset="0.32" stop-opacity="0.72"/><stop offset="0.53" stop-opacity="0.45"/><stop offset="0.77" stop-opacity="0.19"/><stop offset="1" stop-opacity="0"/></linearGradient><linearGradient id="g96" x1="0" y1="0" x2="0" y2="1"><stop offset="0" stop-opacity="0.72"/><stop offset="0.31" stop-opacity="0.72"/><stop offset="0.52" stop-opacity="0.46"/><stop offset="0.76" stop-opacity="0.19"/><stop offset="1" stop-opacity="0"/></linearGradient><linearGradient id="g97" x1="0" y1="0" x2="0" y2="1"><stop offset="0" stop-opacity="0.73"/><stop offset="0.31" stop-opacity="0.73"/><stop offset="0.51" stop-opacity="0.46"/><stop offset="0.76" stop-opacity="0.20"/><stop offset="1" stop-opacity="0"/></linearGradient><linearGradient id="g98" x1="0" y1="0" x2="0" y2="1"><stop offset="0" stop-opacity="0.73"/><stop offset="0.30" stop-opacity="0.73"/><stop offset="0.50" stop-opacity="0.47"/><stop offset="0.75" stop-opacity="0.20"/><stop offset="1" stop-opacity="0"/></linearGradient><linearGradient id="g99" x1="0" y1="0" x2="0" y2="1"><stop offset="0" stop-opacity="0.73"/><stop offset="0.30" stop-opacity="0.73"/><stop offset="0.50" stop-opacity="0.47"/><stop offset="0.75" stop-opacity="0.20"/><stop offset="1" stop-opacity="0"/></linearGradient><linearGradient id="g100" x1="0" y1="0" x2="0" y2="1"><stop offset="0" stop-opacity="0.72"/><stop offset="0.30" stop-opacity="0.72"/><stop offset="0.50" stop-opacity="0.47"/><stop offset="0.75" stop-opacity="0.20"/><stop offset="1" stop-opacity="0"/></linearGradient><linearGradient id="g101" x1="0" y1="0" x2="0" y2="1"><stop offset="0" stop-opacity="0.72"/><stop offset="0.30" stop-opacity="0.72"/><stop offset="0.50" stop-opacity="0.47"/><stop offset="0.75" stop-opacity="0.20"/><stop offset="1" stop-opacity="0"/></linearGradient><linearGradient id="g102" x1="0" y1="0" x2="0" y2="1"><stop offset="0" stop-opacity="0.71"/><stop offset="0.29" stop-opacity="0.71"/><stop offset="0.51" stop-opacity="0.47"/><stop offset="0.75" stop-opacity="0.20"/><stop offset="1" stop-opacity="0"/></linearGradient><linearGradient id="g103" x1="0" y1="0" x2="0" y2="1"><stop offset="0" stop-opacity="0.71"/><stop offset="0.29" stop-opacity="0.71"/><stop offset="0.51" stop-opacity="0.47"/><stop offset="0.75" stop-opacity="0.20"/><stop offset="1" stop-opacity="0"/></linearGradient><linearGradient id="g104" x1="0" y1="0" x2="0" y2="1"><stop offset="0" stop-opacity="0.70"/><stop offset="0.29" stop-opacity="0.70"/><stop offset="0.51" stop-opacity="0.47"/><stop offset="0.75" stop-opacity="0.20"/><stop offset="1" stop-opacity="0"/></linearGradient><linearGradient id="g105" x1="0" y1="0" x2="0" y2="1"><stop offset="0" stop-opacity="0.70"/><stop offset="0.29" stop-opacity="0.70"/><stop offset="0.51" stop-opacity="0.47"/><stop offset="0.75" stop-opacity="0.20"/><stop offset="1" stop-opacity="0"/></linearGradient><linearGradient id="g106" x1="0" y1="0" x2="0" y2="1"><stop offset="0" stop-opacity="0.69"/><stop offset="0.29" stop-opacity="0.69"/><stop offset="0.51" stop-opacity="0.47"/><stop offset="0.75" stop-opacity="0.20"/><stop offset="1" stop-opacity="0"/></linearGradient><linearGradient id="g107" x1="0" y1="0" x2="0" y2="1"><stop offset="0" stop-opacity="0.69"/><stop offset="0.28" stop-opacity="0.69"/><stop offset="0.52" stop-opacity="0.47"/><stop offset="0.76" stop-opacity="0.20"/><stop offset="1" stop-opacity="0"/></linearGradient><linearGradient id="g108" x1="0" y1="0" x2="0" y2="1"><stop offset="0" stop-opacity="0.68"/><stop offset="0.28" stop-opacity="0.68"/><stop offset="0.52" stop-opacity="0.47"/><stop offset="0.76" stop-opacity="0.20"/><stop offset="1" stop-opacity="0"/></linearGradient><linearGradient id="g109" x1="0" y1="0" x2="0" y2="1"><stop offset="0" stop-opacity="0.68"/><stop offset="0.28" stop-opacity="0.68"/><stop offset="0.52" stop-opacity="0.47"/><stop offset="0.76" stop-opacity="0.20"/><stop offset="1" stop-opacity="0"/></linearGradient><linearGradient id="g110" x1="0" y1="0" x2="0" y2="1"><stop offset="0" stop-opacity="0.67"/><stop offset="0.28" stop-opacity="0.67"/><stop offset="0.52" stop-opacity="0.47"/><stop offset="0.76" stop-opacity="0.20"/><stop offset="1" stop-opacity="0"/></linearGradient><linearGradient id="g111" x1="0" y1="0" x2="0" y2="1"><stop offset="0" stop-opacity="0.67"/><stop offset="0.28" stop-opacity="0.67"/><stop offset="0.52" stop-opacity="0.47"/><stop offset="0.76" stop-opacity="0.20"/><stop offset="1" stop-opacity="0"/></linearGradient><linearGradient id="g112" x1="0" y1="0" x2="0" y2="1"><stop offset="0" stop-opacity="0.66"/><stop offset="0.27" stop-opacity="0.66"/><stop offset="0.53" stop-opacity="0.47"/><stop offset="0.76" stop-opacity="0.20"/><stop offset="1" stop-opacity="0"/></linearGradient><linearGradient id="g113" x1="0" y1="0" x2="0" y2="1"><stop offset="0" stop-opacity="0.66"/><stop offset="0.27" stop-opacity="0.66"/><stop offset="0.53" stop-opacity="0.47"/><stop offset="0.76" stop-opacity="0.20"/><stop offset="1" stop-opacity="0"/></linearGradient><linearGradient id="g114" x1="0" y1="0" x2="0" y2="1"><stop offset="0" stop-opacity="0.65"/><stop offset="0.27" stop-opacity="0.65"/><stop offset="0.53" stop-opacity="0.47"/><stop offset="0.76" stop-opacity="0.20"/><stop offset="1" stop-opacity="0"/></linearGradient><linearGradient id="g115" x1="0" y1="0" x2="0" y2="1"><stop offset="0" stop-opacity="0.65"/><stop offset="0.27" stop-opacity="0.65"/><stop offset="0.52" stop-opacity="0.47"/><stop offset="0.76" stop-opacity="0.20"/><stop offset="1" stop-opacity="0"/></linearGradient><linearGradient id="g116" x1="0" y1="0" x2="0" y2="1"><stop offset="0" stop-opacity="0.64"/><stop offset="0.26" stop-opacity="0.64"/><stop offset="0.49" stop-opacity="0.46"/><stop offset="0.75" stop-opacity="0.22"/><stop offset="1" stop-opacity="0"/></linearGradient><linearGradient id="g117" x1="0" y1="0" x2="0" y2="1"><stop offset="0" stop-opacity="0.64"/><stop offset="0.24" stop-opacity="0.64"/><stop offset="0.47" stop-opacity="0.45"/><stop offset="0.74" stop-opacity="0.23"/><stop offset="1" stop-opacity="0"/></linearGradient><linearGradient id="g118" x1="0" y1="0" x2="0" y2="1"><stop offset="0" stop-opacity="0.63"/><stop offset="0.23" stop-opacity="0.63"/><stop offset="0.44" stop-opacity="0.45"/><stop offset="0.74" stop-opacity="0.24"/><stop offset="1" stop-opacity="0"/></linearGradient><linearGradient id="g119" x1="0" y1="0" x2="0" y2="1"><stop offset="0" stop-opacity="0.62"/><stop offset="0.22" stop-opacity="0.62"/><stop offset="0.42" stop-opacity="0.44"/><stop offset="0.73" stop-opacity="0.25"/><stop offset="1" stop-opacity="0"/></linearGradient><linearGradient id="g120" x1="0" y1="0" x2="0" y2="1"><stop offset="0" stop-opacity="0.62"/><stop offset="0.21" stop-opacity="0.62"/><stop offset="0.39" stop-opacity="0.43"/><stop offset="0.72" stop-opacity="0.26"/><stop offset="1" stop-opacity="0"/></linearGradient><linearGradient id="g121" x1="0" y1="0" x2="0" y2="1"><stop offset="0" stop-opacity="0.61"/><stop offset="0.20" stop-opacity="0.61"/><stop offset="0.36" stop-opacity="0.43"/><stop offset="0.72" stop-opacity="0.27"/><stop offset="1" stop-opacity="0"/></linearGradient><linearGradient id="g122" x1="0" y1="0" x2="0" y2="1"><stop offset="0" stop-opacity="0.61"/><stop offset="0.19" stop-opacity="0.61"/><stop offset="0.34" stop-opacity="0.42"/><stop offset="0.71" stop-opacity="0.28"/><stop offset="1" stop-opacity="0"/></linearGradient><linearGradient id="g123" x1="0" y1="0" x2="0" y2="1"><stop offset="0" stop-opacity="0.60"/><stop offset="0.18" stop-opacity="0.60"/><stop offset="0.31" stop-opacity="0.41"/><stop offset="0.70" stop-opacity="0.30"/><stop offset="1" stop-opacity="0"/></linearGradient><linearGradient id="g124" x1="0" y1="0" x2="0" y2="1"><stop offset="0" stop-opacity="0.59"/><stop offset="0.17" stop-opacity="0.59"/><stop offset="0.28" stop-opacity="0.41"/><stop offset="0.70" stop-opacity="0.31"/><stop offset="1" stop-opacity="0"/></linearGradient><linearGradient id="g125" x1="0" y1="0" x2="0" y2="1"><stop offset="0" stop-opacity="0.59"/><stop offset="0.16" stop-opacity="0.59"/><stop offset="0.26" stop-opacity="0.40"/><stop offset="0.69" stop-opacity="0.32"/><stop offset="1" stop-opacity="0"/></linearGradient><linearGradient id="g126" x1="0" y1="0" x2="0" y2="1"><stop offset="0" stop-opacity="0.58"/><stop offset="0.15" stop-opacity="0.58"/><stop offset="0.23" stop-opacity="0.39"/><stop offset="0.68" stop-opacity="0.33"/><stop offset="1" stop-opacity="0"/></linearGradient><linearGradient id="g127" x1="0" y1="0" x2="0" y2="1"><stop offset="0" stop-opacity="0.58"/><stop offset="0.14" stop-opacity="0.58"/><stop offset="0.21" stop-opacity="0.39"/><stop offset="0.68" stop-opacity="0.34"/><stop offset="1" stop-opacity="0"/></linearGradient><linearGradient id="g128" x1="0" y1="0" x2="0" y2="1"><stop offset="0" stop-opacity="0.57"/><stop offset="0.13" stop-opacity="0.57"/><stop offset="0.18" stop-opacity="0.38"/><stop offset="0.67" stop-opacity="0.35"/><stop offset="1" stop-opacity="0"/></linearGradient><linearGradient id="g129" x1="0" y1="0" x2="0" y2="1"><stop offset="0" stop-opacity="0.56"/><stop offset="0.12" stop-opacity="0.56"/><stop offset="0.15" stop-opacity="0.37"/><stop offset="0.66" stop-opacity="0.36"/><stop offset="1" stop-opacity="0"/></linearGradient><linearGradient id="g130" x1="0" y1="0" x2="0" y2="1"><stop offset="0" stop-opacity="0.56"/><stop offset="0.11" stop-opacity="0.56"/><stop offset="0.14" stop-opacity="0.37"/><stop offset="0.66" stop-opacity="0.37"/><stop offset="1" stop-opacity="0"/></linearGradient><linearGradient id="g131" x1="0" y1="0" x2="0" y2="1"><stop offset="0" stop-opacity="0.56"/><stop offset="0.11" stop-opacity="0.56"/><stop offset="0.14" stop-opacity="0.37"/><stop offset="0.66" stop-opacity="0.37"/><stop offset="1" stop-opacity="0"/></linearGradient></defs><g filter="url(#sb)"><rect x="-16" y="337" width="8" height="22.0" fill="url(#g0)"/><rect x="-8" y="337" width="8" height="22.0" fill="url(#g1)"/><rect x="0" y="337" width="8" height="21.8" fill="url(#g2)"/><rect x="8" y="337" width="8" height="21.4" fill="url(#g3)"/><rect x="16" y="337" width="8" height="21.0" fill="url(#g4)"/><rect x="24" y="337" width="8" height="20.5" fill="url(#g5)"/><rect x="32" y="337" width="8" height="20.1" fill="url(#g6)"/><rect x="40" y="337" width="8" height="19.7" fill="url(#g7)"/><rect x="48" y="337" width="8" height="19.3" fill="url(#g8)"/><rect x="56" y="337" width="8" height="18.9" fill="url(#g9)"/><rect x="64" y="337" width="8" height="18.5" fill="url(#g10)"/><rect x="72" y="337" width="8" height="18.1" fill="url(#g11)"/><rect x="80" y="337" width="8" height="17.6" fill="url(#g12)"/><rect x="88" y="337" width="8" height="17.2" fill="url(#g13)"/><rect x="96" y="337" width="8" height="16.8" fill="url(#g14)"/><rect x="104" y="337" width="8" height="16.4" fill="url(#g15)"/><rect x="112" y="337" width="8" height="16.0" fill="url(#g16)"/><rect x="120" y="337" width="8" height="15.6" fill="url(#g17)"/><rect x="128" y="337" width="8" height="15.2" fill="url(#g18)"/><rect x="136" y="337" width="8" height="14.8" fill="url(#g19)"/><rect x="144" y="337" width="8" height="14.3" fill="url(#g20)"/><rect x="152" y="337" width="8" height="13.9" fill="url(#g21)"/><rect x="160" y="337" width="8" height="13.6" fill="url(#g22)"/><rect x="168" y="337" width="8" height="13.2" fill="url(#g23)"/><rect x="176" y="337" width="8" height="12.8" fill="url(#g24)"/><rect x="184" y="337" width="8" height="12.3" fill="url(#g25)"/><rect x="192" y="337" width="8" height="11.9" fill="url(#g26)"/><rect x="200" y="337" width="8" height="11.6" fill="url(#g27)"/><rect x="208" y="337" width="8" height="11.2" fill="url(#g28)"/><rect x="216" y="337" width="8" height="10.8" fill="url(#g29)"/><rect x="224" y="337" width="8" height="10.3" fill="url(#g30)"/><rect x="232" y="337" width="8" height="9.9" fill="url(#g31)"/><rect x="240" y="337" width="8" height="9.6" fill="url(#g32)"/><rect x="248" y="337" width="8" height="9.1" fill="url(#g33)"/><rect x="256" y="337" width="8" height="8.9" fill="url(#g34)"/><rect x="264" y="337" width="8" height="8.8" fill="url(#g35)"/><rect x="272" y="337" width="8" height="8.7" fill="url(#g36)"/><rect x="280" y="337" width="8" height="8.6" fill="url(#g37)"/><rect x="288" y="337" width="8" height="8.4" fill="url(#g38)"/><rect x="296" y="337" width="8" height="8.3" fill="url(#g39)"/><rect x="304" y="337" width="8" height="8.2" fill="url(#g40)"/><rect x="312" y="337" width="8" height="8.1" fill="url(#g41)"/><rect x="320" y="337" width="8" height="7.9" fill="url(#g42)"/><rect x="328" y="337" width="8" height="7.8" fill="url(#g43)"/><rect x="336" y="337" width="8" height="7.7" fill="url(#g44)"/><rect x="344" y="337" width="8" height="7.6" fill="url(#g45)"/><rect x="352" y="337" width="8" height="7.4" fill="url(#g46)"/><rect x="360" y="337" width="8" height="7.3" fill="url(#g47)"/><rect x="368" y="337" width="8" height="7.2" fill="url(#g48)"/><rect x="376" y="337" width="8" height="7.1" fill="url(#g49)"/><rect x="384" y="337" width="8" height="7.0" fill="url(#g50)"/><rect x="392" y="337" width="8" height="6.8" fill="url(#g51)"/><rect x="400" y="337" width="8" height="6.7" fill="url(#g52)"/><rect x="408" y="337" width="8" height="6.6" fill="url(#g53)"/><rect x="416" y="337" width="8" height="6.5" fill="url(#g54)"/><rect x="424" y="337" width="8" height="6.3" fill="url(#g55)"/><rect x="432" y="337" width="8" height="6.2" fill="url(#g56)"/><rect x="440" y="337" width="8" height="6.1" fill="url(#g57)"/><rect x="448" y="337" width="8" height="6.0" fill="url(#g58)"/><rect x="456" y="337" width="8" height="5.8" fill="url(#g59)"/><rect x="464" y="337" width="8" height="5.7" fill="url(#g60)"/><rect x="472" y="337" width="8" height="5.6" fill="url(#g61)"/><rect x="480" y="337" width="8" height="5.5" fill="url(#g62)"/><rect x="488" y="337" width="8" height="5.4" fill="url(#g63)"/><rect x="496" y="337" width="8" height="5.2" fill="url(#g64)"/><rect x="504" y="337" width="8" height="5.1" fill="url(#g65)"/><rect x="512" y="337" width="8" height="5.0" fill="url(#g66)"/><rect x="520" y="337" width="8" height="5.3" fill="url(#g67)"/><rect x="528" y="337" width="8" height="5.5" fill="url(#g68)"/><rect x="536" y="337" width="8" height="5.7" fill="url(#g69)"/><rect x="544" y="337" width="8" height="6.0" fill="url(#g70)"/><rect x="552" y="337" width="8" height="6.2" fill="url(#g71)"/><rect x="560" y="337" width="8" height="6.4" fill="url(#g72)"/><rect x="568" y="337" width="8" height="6.6" fill="url(#g73)"/><rect x="576" y="337" width="8" height="6.9" fill="url(#g74)"/><rect x="584" y="337" width="8" height="7.1" fill="url(#g75)"/><rect x="592" y="337" width="8" height="7.3" fill="url(#g76)"/><rect x="600" y="337" width="8" height="7.6" fill="url(#g77)"/><rect x="608" y="337" width="8" height="7.8" fill="url(#g78)"/><rect x="616" y="337" width="8" height="8.0" fill="url(#g79)"/><rect x="624" y="337" width="8" height="8.3" fill="url(#g80)"/><rect x="632" y="337" width="8" height="8.5" fill="url(#g81)"/><rect x="640" y="337" width="8" height="8.7" fill="url(#g82)"/><rect x="648" y="337" width="8" height="9.0" fill="url(#g83)"/><rect x="656" y="337" width="8" height="9.2" fill="url(#g84)"/><rect x="664" y="337" width="8" height="9.4" fill="url(#g85)"/><rect x="672" y="337" width="8" height="9.6" fill="url(#g86)"/><rect x="680" y="337" width="8" height="9.9" fill="url(#g87)"/><rect x="688" y="337" width="8" height="10.1" fill="url(#g88)"/><rect x="696" y="337" width="8" height="10.3" fill="url(#g89)"/><rect x="704" y="337" width="8" height="10.6" fill="url(#g90)"/><rect x="712" y="337" width="8" height="10.8" fill="url(#g91)"/><rect x="720" y="337" width="8" height="11.0" fill="url(#g92)"/><rect x="728" y="337" width="8" height="11.3" fill="url(#g93)"/><rect x="736" y="337" width="8" height="11.5" fill="url(#g94)"/><rect x="744" y="337" width="8" height="11.7" fill="url(#g95)"/><rect x="752" y="337" width="8" height="12.0" fill="url(#g96)"/><rect x="760" y="337" width="8" height="12.2" fill="url(#g97)"/><rect x="768" y="337" width="8" height="12.4" fill="url(#g98)"/><rect x="776" y="337" width="8" height="12.7" fill="url(#g99)"/><rect x="784" y="337" width="8" height="12.9" fill="url(#g100)"/><rect x="792" y="337" width="8" height="13.2" fill="url(#g101)"/><rect x="800" y="337" width="8" height="13.5" fill="url(#g102)"/><rect x="808" y="337" width="8" height="13.8" fill="url(#g103)"/><rect x="816" y="337" width="8" height="14.1" fill="url(#g104)"/><rect x="824" y="337" width="8" height="14.3" fill="url(#g105)"/><rect x="832" y="337" width="8" height="14.6" fill="url(#g106)"/><rect x="840" y="337" width="8" height="14.9" fill="url(#g107)"/><rect x="848" y="337" width="8" height="15.2" fill="url(#g108)"/><rect x="856" y="337" width="8" height="15.4" fill="url(#g109)"/><rect x="864" y="337" width="8" height="15.7" fill="url(#g110)"/><rect x="872" y="337" width="8" height="16.0" fill="url(#g111)"/><rect x="880" y="337" width="8" height="16.3" fill="url(#g112)"/><rect x="888" y="337" width="8" height="16.6" fill="url(#g113)"/><rect x="896" y="337" width="8" height="16.8" fill="url(#g114)"/><rect x="904" y="337" width="8" height="17.1" fill="url(#g115)"/><rect x="912" y="337" width="8" height="17.5" fill="url(#g116)"/><rect x="920" y="337" width="8" height="17.8" fill="url(#g117)"/><rect x="928" y="337" width="8" height="18.1" fill="url(#g118)"/><rect x="936" y="337" width="8" height="18.5" fill="url(#g119)"/><rect x="944" y="337" width="8" height="18.8" fill="url(#g120)"/><rect x="952" y="337" width="8" height="19.1" fill="url(#g121)"/><rect x="960" y="337" width="8" height="19.5" fill="url(#g122)"/><rect x="968" y="337" width="8" height="19.8" fill="url(#g123)"/><rect x="976" y="337" width="8" height="20.2" fill="url(#g124)"/><rect x="984" y="337" width="8" height="20.5" fill="url(#g125)"/><rect x="992" y="337" width="8" height="20.8" fill="url(#g126)"/><rect x="1000" y="337" width="8" height="21.2" fill="url(#g127)"/><rect x="1008" y="337" width="8" height="21.5" fill="url(#g128)"/><rect x="1016" y="337" width="8" height="21.8" fill="url(#g129)"/><rect x="1024" y="337" width="8" height="22.0" fill="url(#g130)"/><rect x="1032" y="337" width="8" height="22.0" fill="url(#g131)"/></g></svg>

<div class="step" style="left:59px">Step 1</div>
<div class="step" style="left:247px">Step 2</div>
<div class="step" style="left:434.5px">Step 3</div>
<div class="step" style="left:638px">Step 4</div>
<div class="step" style="left:810.5px">Step 5</div>
<div id="bline" class="abs"></div>

<div id="c1" class="col cy" style="left:18px"><i class="bt"></i>
<div class="l l0 h"><b>S</b>urvey<i class="dd">...</i></div>
<div class="l l0">Based on Business Strategy &amp;</div>
<div class="l l0">Goals</div>
<div class="l l1 dot">Core Internal Process</div>
<div class="l l1 dot">Non Core Internal</div>
<div class="l l1">Process</div>
<div class="l l1 dot">Inventory of</div>
<div class="l l2 dot">Applications</div>
<div class="l l2 dot">Technology</div>
<div class="l l2 dot">Infrastructure</div>
<div class="l l1 dot">Direct costs</div>
<div class="l l1 dot">Indirect costs</div>
<div class="l l1 dot">Unit SWOT Analysis</div>
<div class="l l1 dot">Unit Gap Analysis</div>
</div>
<div id="c2" class="col ye" style="left:208px"><i class="bt"></i>
<div class="l l0 h"><b>M</b>ap<i class="dd">...</i></div>
<div class="l l1 dot">Functional layouts by</div>
<div class="l l1">Department, Unit, Sector,</div>
<div class="l l1">Geography</div>
<div class="l l1 dot">Include Total Costs of</div>
<div class="l circ">Automation</div>
<div class="l circ">Roles/Structure</div>
<div class="l circ">Operations</div>
<div class="l circ">Depreciation</div>
<div class="l circ">Maintenance</div>
<div class="l circ">Overheads</div>
</div>
<div id="c3" class="col cy" style="left:398px"><i class="bt"></i>
<div class="l l0 h"><b>A</b>lign<i class="dd">...</i></div>
<div class="l l0">With budget/structure owners;</div>
<div class="l l1 dot">Comparison / Overlap</div>
<div class="l l1">identification of Roles,</div>
<div class="l l1">Technology including</div>
<div class="l l1">Application, Databases,</div>
<div class="l l1">Infrastructure</div>
<div class="l l1"></div>
<div class="l l1 dot">Critical importance of</div>
<div class="l l1">each</div>
<div class="l l1 dot">Issues &amp; Risks of loss of</div>
<div class="l l1">each</div>
<div class="l l1"></div>
<div class="l l0 it" style="padding-left:23px">Agree, don't Assume</div>
</div>
<div id="c4" class="col ye" style="left:588px"><i class="bt"></i>
<div class="l l0 h"><b>R</b>esearch<i class="dd">...</i></div>
<div class="l l1 dot">Competitive Solutions</div>
<div class="l l1 dot">Technology &amp;</div>
<div class="l l1">Automation</div>
<div class="l l1 dot">Specializations required</div>
<div class="l l1 dot">Outsource vendors</div>
<div class="l l1 dot">Service Partners</div>
</div>
<div id="c5" class="col cy" style="left:778px;width:189px"><i class="bt"></i>
<div class="l l0 h"><b>T</b>ransform<i class="dd">...</i></div>
<div class="l l1 dot">Based on prior data &amp;</div>
<div class="l l1">information</div>
<div class="l l1 dot">Streamline</div>
<div class="l l1 dot">Insource</div>
<div class="l l1 dot">Outsource</div>
<div class="l l1 dot">Partner</div>
<div class="l l1 dot">Remove redundant roles,</div>
<div class="l l1">technology</div>
<div class="l l1 dot">Reduce or expand</div>
<div class="l l1">geography</div>
<div class="l l1"></div>
<div class="l l1 dot it">Benefits Realization &amp;</div>
<div class="l l1 it">Capture</div>
</div>
<div id="bot" class="abs"></div>
<div id="author" class="abs">Author: Yuri Aguiar ©</div>
</body></html>
